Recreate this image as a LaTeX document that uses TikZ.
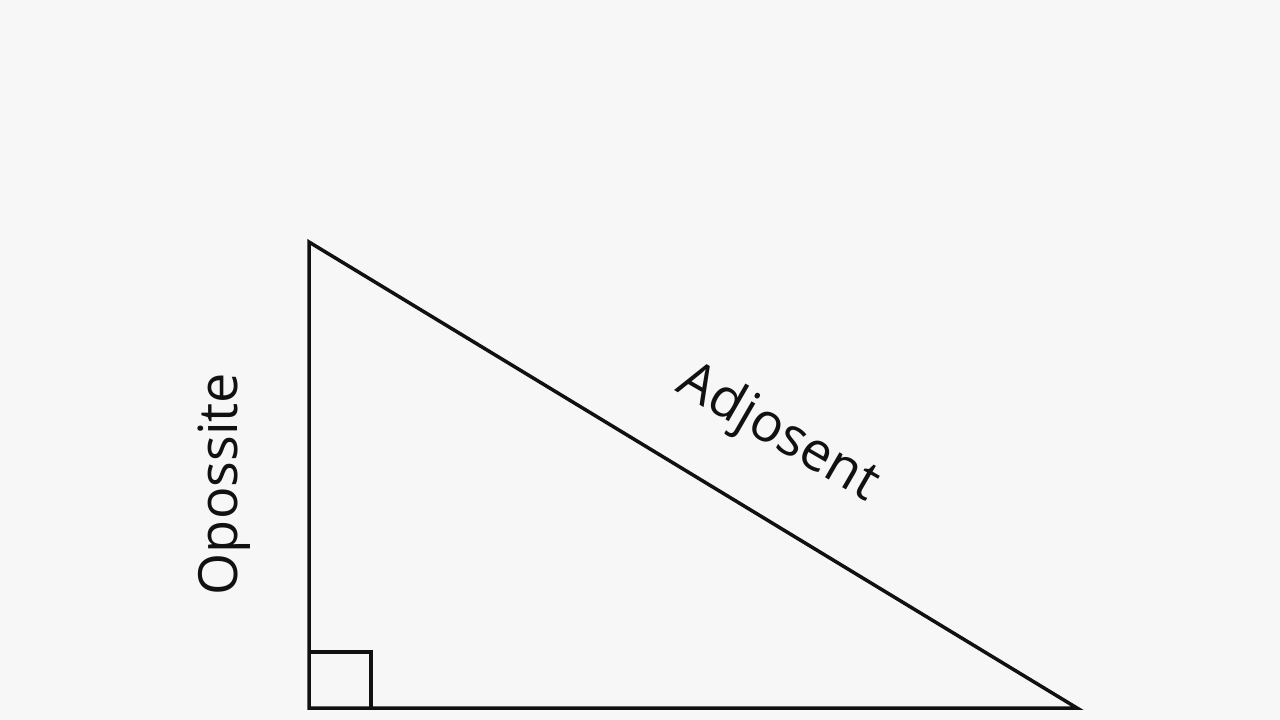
\documentclass[tikz,border=0pt]{standalone}
\usepackage{fontspec}
\setmainfont{Open Sans}
\definecolor{bg}{HTML}{F7F7F7}
\definecolor{ink}{HTML}{111111}
\begin{document}
\begin{tikzpicture}[x=1pt,y=-1pt,
  edge/.style={draw=ink,line width=3.5pt,line join=miter},
  lbl/.style={font=\fontsize{54}{60}\selectfont,text=ink,inner sep=0pt}]
\fill[bg] (0,0) rectangle (1280,720);
\useasboundingbox (0,0) rectangle (1280,720);
\coordinate (T) at (309,242);
\coordinate (L) at (309,708);
\coordinate (R) at (1077,708);
\draw[edge] (T) -- (L) -- (R) -- cycle;
\draw[edge] (309,652) -- (371,652) -- (371,708);
\node[lbl,rotate=90] (opp) at (224,484) {Opossite};
\node[lbl,rotate=-30] (adj) at (778,434) {Adjosent};
\end{tikzpicture}
\end{document}
